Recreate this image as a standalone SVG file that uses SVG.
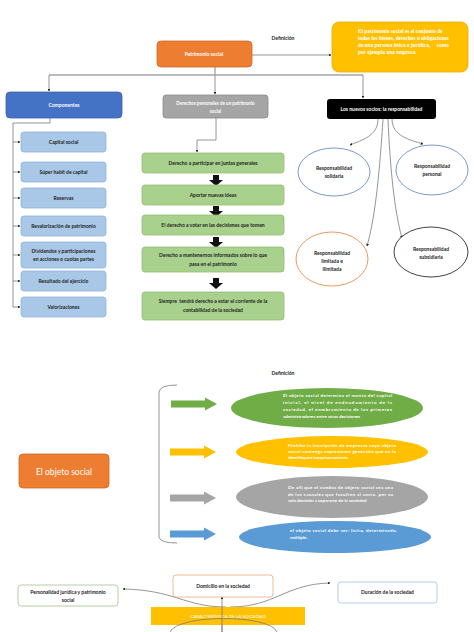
<svg xmlns="http://www.w3.org/2000/svg" width="474" height="632" viewBox="0 0 474 632">
<defs>
<marker id="ah" viewBox="0 0 6 6" refX="5" refY="3" markerWidth="3.5" markerHeight="3.5" orient="auto">
<path d="M0,0 L6,3 L0,6 Z" fill="#222"/>
</marker>
<path id="dn" d="M-3,0 H3 V5 H7 L0,11 L-7,5 H-3 Z" fill="#111"/>
<path id="rt" d="M0,-3.5 H34 V-6.5 L46,0 L34,6.5 V3.5 H0 Z"/>
</defs>
<style>
text{font-family:Lato,"Liberation Sans",sans-serif;font-weight:bold;text-anchor:middle;fill:#222}
.w{fill:#fff}
.s5{font-size:5px}
.s45{font-size:4.6px}
.ser{font-family:"Liberation Serif",serif;font-size:5.3px;text-anchor:start;fill:#fff}
.et{font-size:4.5px;text-anchor:start;fill:#fff}
.ln{fill:none;stroke:#7a7a7a;stroke-width:0.8}
.lnm{fill:none;stroke:#7a7a7a;stroke-width:0.8;marker-end:url(#ah)}
.item{fill:#a9c8e8;stroke:#8fb3da;stroke-width:0.8}
.grn{fill:#a9d18e;stroke:#93bd75;stroke-width:0.8}
</style>
<rect width="474" height="632" fill="#fff"/>

<g id="connectors">
<path class="lnm" d="M252,55 H331"/>
<path class="ln" d="M215,67 V75" style="stroke:#9a9a9a;stroke-width:1.2"/>
<path class="ln" d="M49,75 H363" style="stroke:#a6a6a6;stroke-width:1.4"/>
<path class="lnm" d="M49,75 V91"/>
<path class="lnm" d="M215,75 V94"/>
<path class="lnm" d="M363,75 V98"/>
<path class="ln" d="M50,118 V123 H13 V307"/>
<path class="lnm" d="M13,142 H20"/>
<path class="lnm" d="M13,172 H20"/>
<path class="lnm" d="M13,198 H20"/>
<path class="lnm" d="M13,226 H20"/>
<path class="lnm" d="M13,255 H20"/>
<path class="lnm" d="M13,281 H20"/>
<path class="lnm" d="M13,307 H20"/>
<path class="lnm" d="M216,118 V140 H197 V152"/>
<use href="#dn" x="216" y="175"/>
<use href="#dn" x="216" y="206" transform="translate(0,0)"/>
<use href="#dn" x="216" y="237"/>
<use href="#dn" x="216" y="278"/>
<path class="lnm" d="M378,119 C378,136 362,140 350,145"/>
<path class="lnm" d="M392,119 C392,136 410,140 423,144"/>
<path class="lnm" d="M383,119 C380,165 376,215 367,246"/>
<path class="lnm" d="M388,119 C390,165 394,210 402,238"/>
<path class="ln" d="M177,385 Q160,385 159,392 V537 Q160,543 177,543"/>
<use href="#rt" x="171" y="404" fill="#70ad47"/>
<use href="#rt" x="170" y="452" fill="#ffc000"/>
<use href="#rt" x="170" y="498" fill="#a5a5a5"/>
<use href="#rt" x="170" y="534" fill="#5b9bd5"/>
<path class="lnm" d="M226,607 C185,607 175,590 123,589"/>
<path class="lnm" d="M230,607 C275,607 285,584 330,583"/>
<path class="lnm" d="M222,632 V597"/>
</g>

<text x="283" y="40" class="s5">Definición</text>

<g id="patrimonio-social">
<rect x="157" y="41" width="95" height="26" rx="4" fill="#ed7d31" stroke="#d0692a" stroke-width="0.8"/>
<text x="204" y="56" class="s5 w">Patrimonio social</text>
</g>

<g id="definicion-patrimonio">
<rect x="332" y="22" width="136" height="50" rx="7" fill="#ffc000" stroke="#e5ad00" stroke-width="0.8"/>
<text x="358" y="33" class="ser">El patrimonio social es el conjunto de</text>
<text x="358" y="40" class="ser">todos los bienes, derechos u obligaciones</text>
<text x="358" y="47" class="ser" xml:space="preserve">de una persona física o jurídica,     como</text>
<text x="358" y="54" class="ser">por ejemplo una empresa.</text>
</g>

<g id="componentes">
<rect x="6" y="92" width="116" height="26" rx="4" fill="#4472c4" stroke="#3a62a8" stroke-width="0.8"/>
<text x="64" y="107" class="s5 w">Componentes</text>
</g>

<g id="capital-social"><rect class="item" x="21" y="132" width="85" height="20" rx="3"/><text x="63.5" y="143.5" class="s5">Capital social</text></g>
<g id="super-habit"><rect class="item" x="21" y="162" width="85" height="20" rx="3"/><text x="63.5" y="173.5" class="s5">Súper habit de capital</text></g>
<g id="reservas"><rect class="item" x="21" y="188" width="85" height="20" rx="3"/><text x="63.5" y="199.5" class="s5">Reservas</text></g>
<g id="revalorizacion"><rect class="item" x="21" y="216" width="85" height="20" rx="3"/><text x="63.5" y="227.5" class="s5">Revalorización de patrimonio</text></g>
<g id="dividendos"><rect class="item" x="21" y="242" width="85" height="26" rx="3"/><text x="63.5" y="252.5" class="s5">Dividendos y participaciones</text><text x="63.5" y="261" class="s5">en acciones o cuotas partes</text></g>
<g id="resultado"><rect class="item" x="21" y="271" width="85" height="20" rx="3"/><text x="63.5" y="282.5" class="s5">Resultado del ejercicio</text></g>
<g id="valorizaciones"><rect class="item" x="21" y="297" width="85" height="20" rx="3"/><text x="63.5" y="308.5" class="s5">Valorizaciones</text></g>

<g id="derechos-personales">
<rect x="163" y="95" width="105" height="23" rx="3" fill="#a5a5a5" stroke="#8c8c8c" stroke-width="0.8"/>
<text x="215.5" y="104.5" class="s45 w">Derechos personales de un patrimonio</text>
<text x="215.5" y="112.5" class="s45 w">social</text>
</g>

<g id="d1"><rect class="grn" x="142" y="153" width="142" height="20" rx="3"/><text x="213" y="164.5" class="s5">Derecho a participar en juntas generales</text></g>
<g id="d2"><rect class="grn" x="142" y="185" width="142" height="20" rx="3"/><text x="213" y="196.5" class="s5">Aportar nuevas ideas</text></g>
<g id="d3"><rect class="grn" x="142" y="215" width="142" height="20" rx="3"/><text x="213" y="226.5" class="s5">El derecho a votar en las decisiones que tomen</text></g>
<g id="d4"><rect class="grn" x="142" y="247" width="142" height="25" rx="3"/><text x="213" y="257" class="s5">Derecho a mantenernos informados sobre lo que</text><text x="213" y="265.5" class="s5">pasa en el patrimonio</text></g>
<g id="d5"><rect class="grn" x="142" y="292" width="142" height="28" rx="3"/><text x="213" y="303" class="s5" xml:space="preserve">Siempre  tendrá derecho a estar al corriente de la</text><text x="213" y="312" class="s5">contabilidad de la sociedad</text></g>

<g id="nuevos-socios">
<rect x="327" y="99" width="109" height="20" rx="3" fill="#000"/>
<text x="381.5" y="110.8" class="s5 w">Los nuevos socios: la responsabilidad</text>
</g>

<g id="solidaria"><ellipse cx="334" cy="172" rx="36" ry="24" fill="#fff" stroke="#5b7fc4" stroke-width="0.8"/><text x="334" y="170" class="s5">Responsabilidad</text><text x="334" y="178" class="s5">solidaria</text></g>
<g id="personal"><ellipse cx="432" cy="170" rx="36" ry="25" fill="#fff" stroke="#5b7fc4" stroke-width="0.8"/><text x="432" y="168" class="s5">Responsabilidad</text><text x="432" y="176" class="s5">personal</text></g>
<g id="limitada"><ellipse cx="332" cy="259" rx="36" ry="27" fill="#fff" stroke="#ed7d31" stroke-width="0.8"/><text x="332" y="255" class="s5">Responsabilidad</text><text x="332" y="263" class="s5">limitada e</text><text x="332" y="271" class="s5">ilimitada</text></g>
<g id="subsidiaria"><ellipse cx="431" cy="252" rx="37" ry="25" fill="#fff" stroke="#111" stroke-width="0.8"/><text x="431" y="251" class="s5">Responsabilidad</text><text x="431" y="259" class="s5">subsidiaria</text></g>

<text x="283" y="375" class="s5">Definición</text>

<g id="objeto-social">
<rect x="19" y="454" width="90" height="34" rx="4" fill="#ed7d31" stroke="#d0692a" stroke-width="0.8"/>
<text x="64" y="474.5" class="w" style="font-size:8.5px;font-weight:normal">El objeto social</text>
</g>

<g id="def-verde">
<ellipse cx="327" cy="408" rx="96" ry="20" fill="#70ad47"/>
<text x="283" y="397" class="et" textLength="109" lengthAdjust="spacing">El objeto social determina el monto del capital</text>
<text x="283" y="404" class="et" textLength="109" lengthAdjust="spacing">inicial, el nivel de endeudamiento de la</text>
<text x="283" y="411" class="et" textLength="109" lengthAdjust="spacing">sociedad, el nombramiento de los primeros</text>
<text x="283" y="418" class="et">administradores entre otras decisiones</text>
</g>

<g id="def-amarilla">
<ellipse cx="332" cy="452" rx="96" ry="16" fill="#ffc000"/>
<text x="288" y="447" class="et" textLength="108" lengthAdjust="spacing">Prohíbe la inscripción de empresas cuyo objeto</text>
<text x="288" y="453" class="et" textLength="108" lengthAdjust="spacing">social contenga expresiones generales que no lo</text>
<text x="288" y="459" class="et">identifiquen inequívocamente.</text>
</g>

<g id="def-gris">
<ellipse cx="332" cy="497" rx="96" ry="21" fill="#a5a5a5"/>
<text x="288" y="489" class="et" textLength="105" lengthAdjust="spacing">De allí que el cambio de objeto social sea una</text>
<text x="288" y="495.5" class="et" textLength="105" lengthAdjust="spacing">de las causales que faculten al socio, por su</text>
<text x="288" y="502" class="et">sola decisión a separarse de la sociedad</text>
</g>

<g id="def-azul">
<ellipse cx="335" cy="537" rx="96" ry="16" fill="#5b9bd5"/>
<text x="290" y="532" class="et" textLength="107" lengthAdjust="spacing">el objeto social debe ser: lícito, determinado,</text>
<text x="290" y="538.5" class="et">múltiple.</text>
</g>

<g id="personalidad">
<rect x="18" y="585" width="100" height="21" rx="3" fill="#fff" stroke="#a9bf8f" stroke-width="0.8"/>
<text x="68" y="593.5" class="s5">Personalidad jurídica y patrimonio</text>
<text x="68" y="601.5" class="s5">social</text>
</g>

<g id="domicilio">
<rect x="173" y="575" width="100" height="22" rx="3" fill="#fff" stroke="#f0a77a" stroke-width="0.8"/>
<text x="223" y="587.5" class="s5">Domicilio en la sociedad</text>
</g>

<g id="duracion">
<rect x="338" y="582" width="99" height="21" rx="3" fill="#fff" stroke="#9dc3e6" stroke-width="0.8"/>
<text x="387.5" y="594" class="s5">Duración de la sociedad</text>
</g>

<g id="caracteristica">
<rect x="151" y="607" width="154" height="18" fill="#ffc000"/>
<text x="228" y="618" class="s45 w" style="font-weight:normal">CARACTERÍSTICA DE LA SOCIEDAD</text>
<path class="ln" d="M170,632 C178,614 270,614 277,632"/>
<path class="ln" d="M222,607 V632"/>
</g>
</svg>
